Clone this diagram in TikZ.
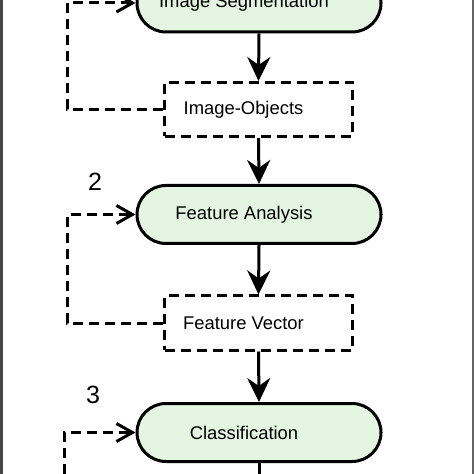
\documentclass[tikz,border=0pt]{standalone}
\usepackage{fontspec}
\setmainfont{Liberation Sans}
\usetikzlibrary{arrows.meta}
\usetikzlibrary{shapes.misc}
\definecolor{stagefill}{RGB}{228,245,226}
\tikzset{stage/.style = {draw, rounded rectangle, fill=stagefill, line width=1.5pt,
                         minimum width=122pt, minimum height=29pt, inner sep=0,
                         font=\fontsize{9.2}{11}\selectfont,
                         execute at end node={\hspace*{15pt}}}}
\tikzset{objbox/.style = {draw, rectangle, line width=1.5pt, dash pattern=on 5pt off 3pt,
                          minimum width=94pt, minimum height=27pt, inner sep=0,
                          font=\fontsize{9.2}{11}\selectfont,
                          execute at end node={\hspace*{15pt}}}}
\tikzset{stagenum/.style = {font=\fontsize{12.5}{14}\selectfont}}
\tikzset{flow/.style = {line width=1.5pt, -{Stealth[length=12pt, width=11.5pt, inset=4pt]}}}
\tikzset{feedback/.style = {line width=1.5pt, dash pattern=on 5pt off 3pt,
                            -{Straight Barb[length=8pt, width=9pt]}}}

\begin{document}
\begin{tikzpicture}[x=0.5pt, y=-0.5pt]
    \useasboundingbox (0, 0) rectangle (474, 474);
    \fill [black!72] (0, 0) rectangle (2.5, 474);
    \fill [black!60] (471.5, 0) rectangle (474, 474);
    \node [stage] (seg) at (259, 3) {Image Segmentation};
    \node [objbox] (obj) at (258.5, 109.5) {Image-Objects};
    \node [stage] (feat) at (259, 214.5) {Feature Analysis};
    \node [objbox] (vec) at (258.5, 323) {Feature Vector};
    \node [stage] (cls) at (259, 432.5) {Classification};
    \node [stagenum] (num2) at (95, 182) {2};
    \node [stagenum] (num3) at (93, 395) {3};
    \coordinate (below) at (259, 490);
    \coordinate (back) at (64, 490);
    \draw [flow] (seg.south) -- (obj.north);
    \draw [flow] (obj.south) -- (feat.north);
    \draw [flow] (feat.south) -- (vec.north);
    \draw [flow] (vec.south) -- (cls.north);
    \draw [line width=1.5pt] (cls.south) -- (below);
    \draw [feedback] (obj.west) -- ++(-96, 0) |- (seg.west);
    \draw [feedback] (vec.west) -- ++(-96, 0) |- (feat.west);
    \draw [feedback] (back) |- (cls.west);
\end{tikzpicture}
\end{document}
